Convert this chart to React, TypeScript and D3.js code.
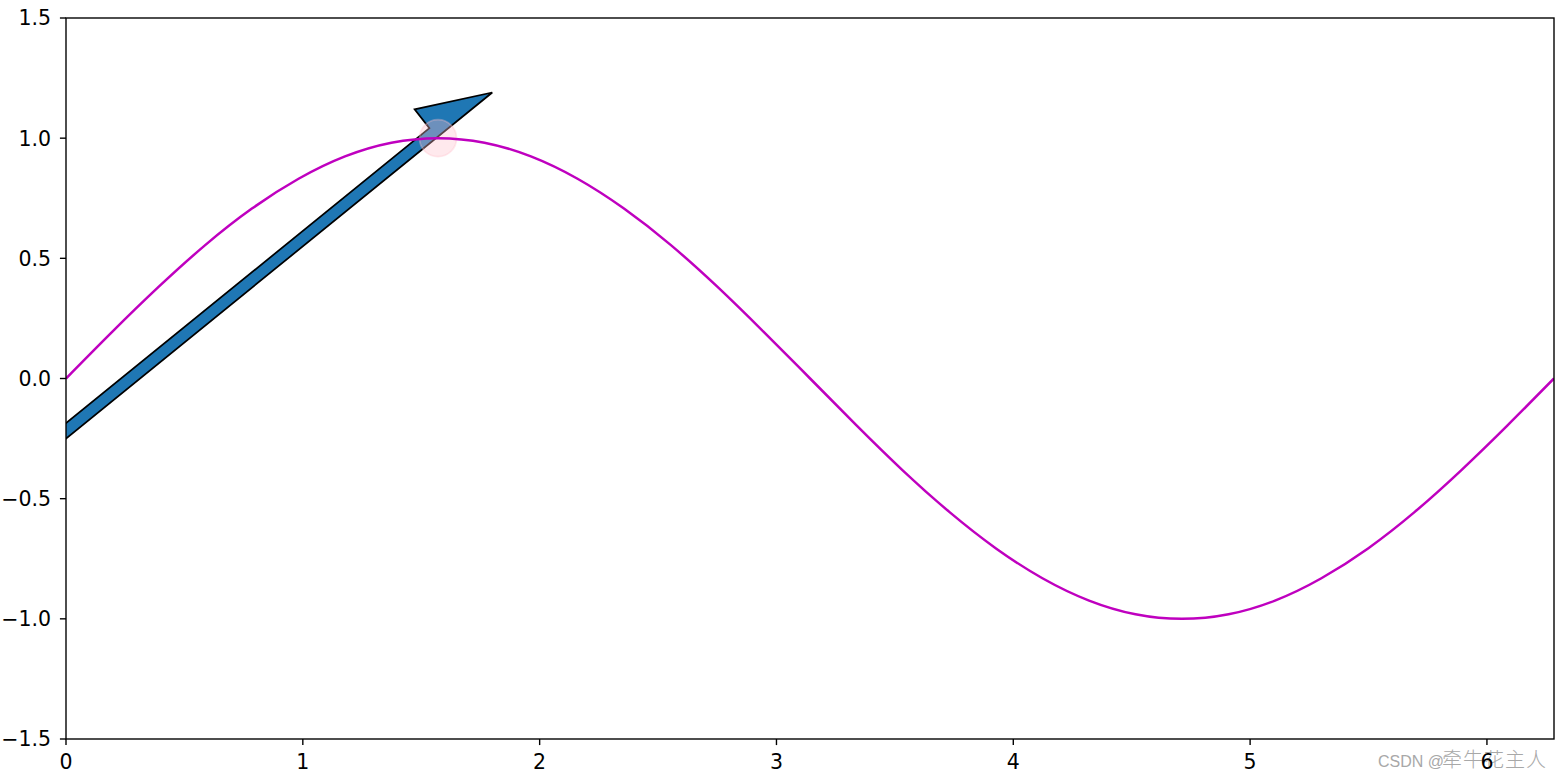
import React from "react";
import * as d3 from "d3";

const xs = [0, 0.196, 0.393, 0.589, 0.785, 0.982, 1.178, 1.374, 1.571, 1.767, 1.963, 2.16, 2.356, 2.553, 2.749, 2.945, 3.142, 3.338, 3.534, 3.731, 3.927, 4.123, 4.32, 4.516, 4.712, 4.909, 5.105, 5.301, 5.498, 5.694, 5.89, 6.087, 6.283];
const ys = [0, 0.195, 0.383, 0.556, 0.707, 0.831, 0.924, 0.981, 1, 0.981, 0.924, 0.831, 0.707, 0.556, 0.383, 0.195, 0, -0.195, -0.383, -0.556, -0.707, -0.831, -0.924, -0.981, -1, -0.981, -0.924, -0.831, -0.707, -0.556, -0.383, -0.195, 0];

const xTicks = [0, 1, 2, 3, 4, 5, 6];
const yTicks = [-1.5, -1.0, -0.5, 0.0, 0.5, 1.0, 1.5];

// arrow (data units), matplotlib-like half arrow
const arrowStart = [0, -0.25];
const arrowDelta = [1.8, 1.44];
const arrowWidth = 0.1;
const arrowHeadWidth = 0.3;
const arrowHeadLength = 0.3;

// highlighted point
const markerPoint = [1.5708, 1.0];

const W = 1565, H = 779;
const L = 66, R = 1554, T = 18, B = 739;

export default function App() {
  const x = d3.scaleLinear().domain([0, 2 * Math.PI]).range([L, R]);
  const y = d3.scaleLinear().domain([-1.5, 1.5]).range([B, T]);
  const pts = xs.map((v, i) => [v, ys[i]] as [number, number]);
  const line = d3.line<[number, number]>().x(d => x(d[0])).y(d => y(d[1])).curve(d3.curveNatural);

  // arrow polygon
  const [ax, ay] = arrowStart;
  const [dx, dy] = arrowDelta;
  const dist = Math.hypot(dx, dy);
  const length = dist + arrowHeadLength;
  const cx = dx / dist, sx = dy / dist;
  const local = [
    [0, 0],
    [-arrowHeadLength, arrowHeadWidth / 2],
    [-arrowHeadLength, arrowWidth / 2],
    [-length, arrowWidth / 2],
    [-length, 0],
  ];
  const poly = local.map(([a, b]) => {
    const px = a * cx - b * sx + ax + dx;
    const py = a * sx + b * cx + ay + dy;
    return `${x(px)},${y(py)}`;
  }).join(" ");

  const font = "'DejaVu Sans', sans-serif";
  const tl = 6.08;
  const fs = 20.5;

  return (
    <svg width={W} height={H} style={{ position: "fixed", left: 0, top: 0, background: "#fff" }}>
      <defs>
        <clipPath id="plot">
          <rect x={L} y={T} width={R - L} height={B - T} />
        </clipPath>
      </defs>
      <rect x={0} y={0} width={W} height={H} fill="#fff" />
      <text x={1378} y={767} fill="#a8a8a8" fontFamily="'Liberation Sans', Arial, sans-serif">
        <tspan fontSize={16}>CSDN @</tspan>
        <tspan x={1442} fontSize={20} letterSpacing={1} fontFamily="'Noto Sans CJK SC', sans-serif" fontWeight={300}>牵牛花主人</tspan>
      </text>
      <g clipPath="url(#plot)">
        <polygon points={poly} fill="#1f77b4" stroke="#000" strokeWidth={1.74} strokeLinejoin="miter" />
        <circle cx={x(markerPoint[0])} cy={y(markerPoint[1])} r={18.5} fill="pink" fillOpacity={0.35} stroke="pink" strokeOpacity={0.35} strokeWidth={1.74} />
        <path d={line(pts) || ""} fill="none" stroke="#bf00bf" strokeWidth={2.5} />
      </g>
      <rect x={L} y={T} width={R - L} height={B - T} fill="none" stroke="#000" strokeWidth={1.39} />
      {xTicks.map(t => (
        <g key={"x" + t}>
          <line x1={x(t)} x2={x(t)} y1={B} y2={B + tl} stroke="#000" strokeWidth={1.39} />
          <text x={x(t)} y={769} textAnchor="middle" fontFamily={font} fontSize={fs} fill="#000">{t}</text>
        </g>
      ))}
      {yTicks.map(t => (
        <g key={"y" + t}>
          <line x1={L - tl} x2={L} y1={y(t)} y2={y(t)} stroke="#000" strokeWidth={1.39} />
          <text x={51} y={y(t)} dy="0.36em" textAnchor="end" fontFamily={font} fontSize={fs} fill="#000">{t < 0 ? "\u2212" + Math.abs(t).toFixed(1) : t.toFixed(1)}</text>
        </g>
      ))}
    </svg>
  );
}
